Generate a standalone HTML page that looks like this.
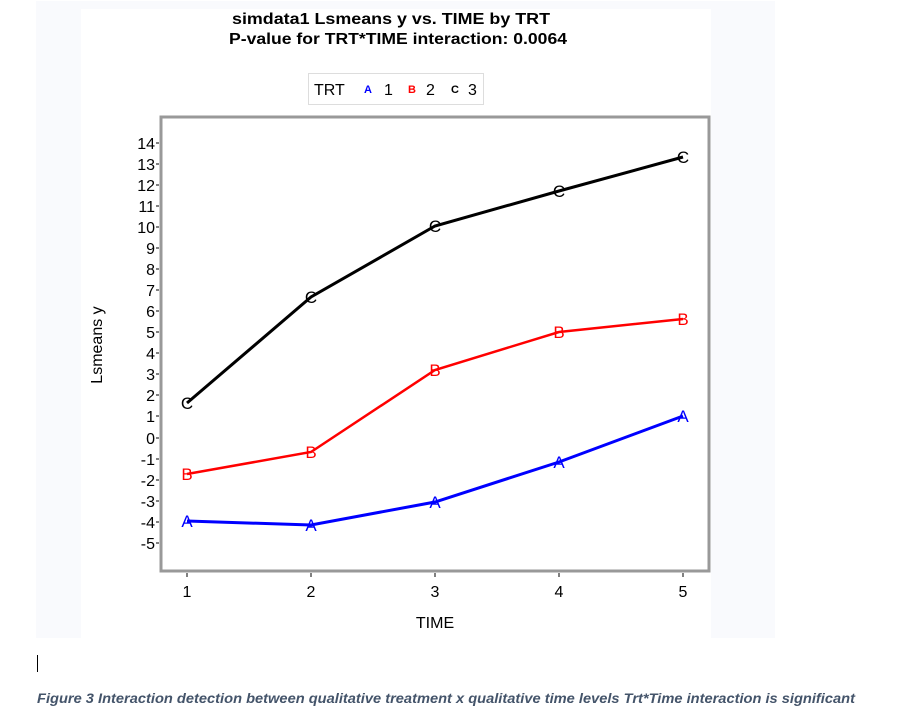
<!DOCTYPE html>
<html><head><meta charset="utf-8"><style>
body{margin:0;background:#fff;width:899px;height:721px;overflow:hidden;position:relative;font-family:"Liberation Sans",Arial,sans-serif}
</style></head><body>
<div style="position:absolute;left:36px;top:1px;width:739px;height:637px;background:#f9fafd"></div>
<div style="position:absolute;left:81px;top:9px;width:630px;height:629px;background:#fff"></div>
<svg width="899" height="721" style="position:absolute;left:0;top:0" font-family="Liberation Sans, Arial, sans-serif">
<text x="232" y="24" font-size="16" font-weight="bold" textLength="318" lengthAdjust="spacingAndGlyphs">simdata1 Lsmeans y vs.  TIME  by TRT</text>
<text x="229" y="44" font-size="16" font-weight="bold" textLength="338" lengthAdjust="spacingAndGlyphs">P-value for TRT*TIME interaction: 0.0064</text>
<rect x="308.5" y="73.5" width="175" height="31" fill="#fff" stroke="#ddd"/>
<text x="314" y="95" font-size="16">TRT</text>
<text x="364" y="93" font-size="11" fill="blue" font-weight="bold">A</text><text x="384" y="95" font-size="16">1</text>
<text x="408" y="93" font-size="11" fill="red" font-weight="bold">B</text><text x="426" y="95" font-size="16">2</text>
<text x="451" y="93" font-size="11" font-weight="bold">C</text><text x="468" y="95" font-size="16">3</text>
<rect x="161" y="117" width="548" height="454" fill="none" stroke="#999" stroke-width="3"/>
<g font-size="16" text-anchor="end">
<text x="155" y="149">14</text><text x="155" y="170">13</text><text x="155" y="191">12</text><text x="155" y="212">11</text><text x="155" y="233">10</text><text x="155" y="254">9</text><text x="155" y="275">8</text><text x="155" y="296">7</text><text x="155" y="317">6</text><text x="155" y="338">5</text><text x="155" y="359">4</text><text x="155" y="380">3</text><text x="155" y="401">2</text><text x="155" y="422">1</text><text x="155" y="444">0</text><text x="155" y="465">-1</text><text x="155" y="486">-2</text><text x="155" y="507">-3</text><text x="155" y="528">-4</text><text x="155" y="549">-5</text>
</g>
<g stroke="#000" stroke-width="1">
<path d="M156 143h3M156 164h3M156 185h3M156 206h3M156 227h3M156 248h3M156 269h3M156 290h3M156 311h3M156 332h3M156 353h3M156 374h3M156 395h3M156 416h3M156 438h3M156 459h3M156 480h3M156 501h3M156 522h3M156 543h3"/>
<path d="M187 573v4M311 573v4M435 573v4M559 573v4M683 573v4"/>
</g>
<g font-size="16" text-anchor="middle">
<text x="187" y="597">1</text><text x="311" y="597">2</text><text x="435" y="597">3</text><text x="559" y="597">4</text><text x="683" y="597">5</text>
<text x="435" y="628">TIME</text>
</g>
<text transform="translate(102,345) rotate(-90)" text-anchor="middle" font-size="16">Lsmeans y</text>
<polyline points="187,403 311,297 435,226 559,191 683,157" fill="none" stroke="#000" stroke-width="3"/>
<polyline points="187,474 311,452 435,370 559,332 683,319" fill="none" stroke="red" stroke-width="2.5"/>
<polyline points="187,521 311,525 435,502 559,462 683,416" fill="none" stroke="blue" stroke-width="3"/>
<g font-size="17" text-anchor="middle">
<text x="187" y="409">C</text><text x="311" y="303">C</text><text x="435" y="232">C</text><text x="559" y="197">C</text><text x="683" y="163">C</text>
<g fill="red"><text x="187" y="480">B</text><text x="311" y="458">B</text><text x="435" y="376">B</text><text x="559" y="338">B</text><text x="683" y="325">B</text></g>
<g fill="blue"><text x="187" y="527">A</text><text x="311" y="531">A</text><text x="435" y="508">A</text><text x="559" y="468">A</text><text x="683" y="422">A</text></g>
</g>
<line x1="37.5" y1="655" x2="37.5" y2="672" stroke="#000"/>
<text x="37" y="703" font-size="14" font-style="italic" font-weight="bold" fill="#44546a" textLength="818" lengthAdjust="spacingAndGlyphs">Figure 3 Interaction detection between qualitative treatment x qualitative time levels Trt*Time interaction is significant</text>
</svg>
</body></html>
